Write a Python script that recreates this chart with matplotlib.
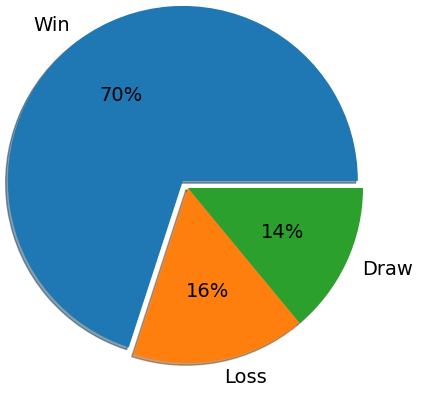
import matplotlib
matplotlib.use("Agg")
import matplotlib.pyplot as plt

## data
labels = ["Win", "Loss", "Draw"]
shares = [70, 16, 14]
explode = [0.05, 0, 0]

## PLOT
fig = plt.figure(figsize=(4.21, 3.93), dpi=100)
ax = fig.add_axes([0, 0, 1, 1])

ax.pie(shares, labels=labels, explode=explode, autopct="%1.0f%%",
       shadow={"ox": -0.009, "oy": -0.009, "shade": 0.5},
       textprops={"fontsize": 14})

# place the pie: unit radius = 175 px, centre at (188, 205) px from bottom-left
r = 175.0
ax.set_xlim(-188 / r, (421 - 188) / r)
ax.set_ylim(-205 / r, (393 - 205) / r)
ax.set_aspect("equal")
ax.axis("off")

fig.savefig("out.png", dpi=100)
plt.close(fig)
